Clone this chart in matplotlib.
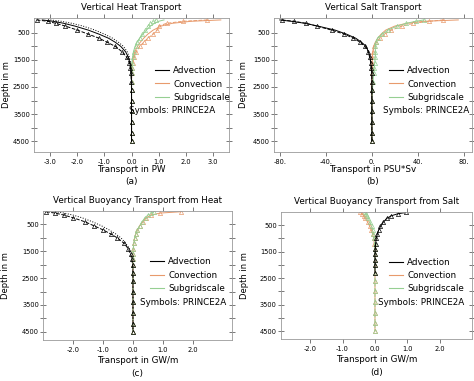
"""
Vertical transport profiles (heat, salt, buoyancy) - 4 panel figure
"""

import numpy as np
import matplotlib
matplotlib.use("Agg")
import matplotlib.pyplot as plt
from matplotlib.lines import Line2D

# depth levels (m)
depth = [25, 75, 150, 250, 400, 550, 700, 850, 1000, 1200, 1400, 1600,
         1800, 2000, 2300, 2600, 3000, 3400, 3800, 4200, 4500]

# (a) heat transport, PW
adv_a = [-3.3, -2.9, -2.5, -2.1, -1.6, -1.2, -0.85, -0.6, -0.4, -0.22, -0.12,
         -0.06, -0.03, -0.01, 0, 0, 0, 0, 0, 0, 0]
adv_a2 = [-3.0, -2.6, -2.2, -1.8, -1.35, -1.0, -0.7, -0.48, -0.3, -0.16, -0.08,
          -0.04, -0.02, 0, 0, 0, 0, 0, 0, 0, 0]
adv_a_p = [-3.5, -3.1, -2.8, -2.45, -2.0, -1.6, -1.2, -0.9, -0.6, -0.35, -0.18,
           -0.08, -0.04, -0.02, -0.01, 0, 0, 0, 0, 0, 0]
conv_a = [3.3, 2.2, 1.5, 1.1, 0.8, 0.6, 0.45, 0.32, 0.22, 0.12, 0.06, 0.03,
          0.01, 0, 0, 0, 0, 0, 0, 0, 0]
conv_a_p = [2.8, 1.9, 1.3, 1.0, 0.95, 0.8, 0.6, 0.45, 0.3, 0.18, 0.1, 0.05,
            0.02, 0.01, 0, 0, 0, 0, 0, 0, 0]
sgs_a = [1.2, 1.0, 0.85, 0.7, 0.55, 0.42, 0.3, 0.2, 0.13, 0.07, 0.04, 0.02,
         0.01, 0, 0, 0, 0, 0, 0, 0, 0]
sgs_a_p = [0.9, 0.8, 0.7, 0.6, 0.5, 0.4, 0.3, 0.22, 0.15, 0.08, 0.04, 0.02,
           0.01, 0, 0, 0, 0, 0, 0, 0, 0]

# (b) salt transport, PSU*Sv
adv_b = [-80, -70, -58, -47, -32, -22, -14, -9, -5, -3, -1.5, -1, -0.5, 0, 0,
         0, 0, 0, 0, 0, 0]
adv_b_p = [-78, -68, -57, -48, -35, -24, -16, -10, -6, -3, -2, -1, -0.5, 0, 0,
           0, 0, 0, 0, 0, 0]
conv_b = [75, 45, 30, 20, 12, 8, 5, 3, 1.5, 0.8, 0.4, 0.2, 0.1, 0, 0, 0, 0, 0,
          0, 0, 0]
conv_b_p = [62, 50, 36, 26, 17, 11, 7, 4, 2, 1, 0.5, 0.3, 0.1, 0, 0, 0, 0, 0,
            0, 0, 0]
sgs_b = [45, 38, 30, 22, 14, 9, 5, 3.5, 3, 3, 3, 2.5, 2, 1.5, 1, 0.5, 0, 0, 0,
         0, 0]

# (c) buoyancy transport from heat, GW/m
adv_c = [-2.6, -2.3, -2.0, -1.7, -1.35, -1.05, -0.8, -0.58, -0.4, -0.24,
         -0.12, -0.06, -0.03, 0, 0, 0, 0, 0, 0, 0, 0]
adv_c_p = [-2.9, -2.6, -2.3, -2.0, -1.6, -1.3, -1.0, -0.75, -0.52, -0.3,
           -0.16, -0.08, -0.04, -0.01, 0, 0, 0, 0, 0, 0, 0]
conv_c = [1.6, 0.9, 0.6, 0.45, 0.32, 0.22, 0.15, 0.1, 0.06, 0.03, 0.01, 0, 0,
          0, 0, 0, 0, 0, 0, 0, 0]
sgs_c = [0.7, 0.6, 0.5, 0.4, 0.3, 0.22, 0.15, 0.1, 0.06, 0.03, 0.01, 0, 0, 0,
         0, 0, 0, 0, 0, 0, 0]

# (d) buoyancy transport from salt, GW/m
adv_d = [0.95, 0.7, 0.5, 0.36, 0.25, 0.17, 0.11, 0.07, 0.04, 0.02, 0.01, 0, 0,
         0, 0]
conv_d = [-0.45, -0.4, -0.35, -0.3, -0.22, -0.16, -0.11, -0.07, -0.04, -0.02,
          0, 0, 0, 0, 0, 0, 0, 0, 0, 0, 0]
sgs_d = [-0.3, -0.28, -0.25, -0.2, -0.15, -0.1, -0.07, -0.05, -0.03, -0.01, 0,
         0, 0, 0, 0, 0, 0, 0, 0, 0, 0]

ADV = "black"
CONV = "#e89a6c"
SGS = "#96cf92"
FRAME = "#9a9a9a"
FS = 6.3

plt.rcParams["font.family"] = "DejaVu Sans"

fig = plt.figure(figsize=(4.74, 3.81), dpi=100)


def prof(ax, x, color, style="-", sym=False, lw=0.7):
    d = depth[:len(x)]
    if sym:
        ax.plot(x, d, color=color, linestyle=style, linewidth=lw, marker="^",
                markersize=3, markerfacecolor="none", markeredgewidth=0.5)
    else:
        ax.plot(x, d, color=color, linestyle=style, linewidth=lw)


def setup(ax, xlim, ylim, xticks, xticklabels, title, xlabel, letter,
          leg_xy, sym_xy, ylab_x, xlab_pad, letter_y):
    ax.set_xlim(*xlim)
    ax.set_ylim(*ylim)
    ax.set_yticks([500, 1500, 2500, 3500, 4500])
    ax.set_yticks([1000, 2000, 3000, 4000], minor=True)
    ax.set_xticks(xticks)
    ax.set_xticklabels(xticklabels)
    ax.tick_params(which="both", direction="out", top=True, right=True,
                   labelsize=4.8, width=0.5, length=3, pad=2, color="#444444")
    ax.tick_params(axis="y", which="both", direction="inout", length=4, pad=1)
    for s in ax.spines.values():
        s.set_color(FRAME)
        s.set_linewidth(0.6)
    ax.set_title(title, fontsize=FS, pad=6)
    ax.set_xlabel(xlabel, fontsize=FS, labelpad=xlab_pad)
    ax.set_ylabel("Depth in m", fontsize=6)
    ax.yaxis.set_label_coords(ylab_x, 0.5)
    ax.text(0.5, letter_y, letter, transform=ax.transAxes, ha="center",
            va="center", fontsize=6.5)

    handles = [Line2D([], [], color=ADV, lw=0.8),
               Line2D([], [], color=CONV, lw=0.8),
               Line2D([], [], color=SGS, lw=0.8)]
    ax.legend(handles, ["Advection", "Convection", "Subgridscale"],
              loc="upper left", bbox_to_anchor=leg_xy, frameon=False,
              fontsize=FS, handlelength=1.6, handletextpad=0.5,
              labelspacing=0.5, borderpad=0, borderaxespad=0)
    ax.text(sym_xy[0], sym_xy[1], "Symbols: PRINCE2A", transform=ax.transAxes,
            ha="right", va="center", fontsize=FS)


# (a)
ax = fig.add_axes([0.072, 0.601, 0.411, 0.352])
prof(ax, conv_a, CONV)
prof(ax, conv_a_p, CONV, "--", sym=True)
prof(ax, sgs_a, SGS)
prof(ax, sgs_a_p, SGS, ":", sym=True)
prof(ax, adv_a2, ADV, ":")
prof(ax, adv_a_p, ADV, "--", sym=True)
prof(ax, adv_a, ADV)
setup(ax, (-3.6, 3.6), (4900, -50), [-3, -2, -1, 0, 1, 2, 3],
      ["-3.0", "-2.0", "-1.0", "0.0", "1.0", "2.0", "3.0"],
      "Vertical Heat Transport", "Transport in PW", "(a)",
      (0.62, 0.64), (0.93, 0.31), -0.118, 0, -0.22)

# (b)
ax = fig.add_axes([0.578, 0.601, 0.418, 0.352])
prof(ax, conv_b, CONV)
prof(ax, conv_b_p, CONV, "--", sym=True)
prof(ax, sgs_b, SGS, sym=True)
prof(ax, adv_b_p, ADV, "--", sym=True)
prof(ax, adv_b, ADV)
setup(ax, (-85, 87), (4900, -50), [-80, -40, 0, 40, 80],
      ["-80.", "-40.", "0.", "40.", "80."],
      "Vertical Salt Transport", "Transport in PSU*Sv", "(b)",
      (0.58, 0.64), (0.985, 0.31), -0.13, 0, -0.22)

# (c)
ax = fig.add_axes([0.091, 0.108, 0.398, 0.338])
prof(ax, conv_c, CONV, sym=True)
prof(ax, sgs_c, SGS, "--", sym=True)
prof(ax, adv_c, ADV, ":")
prof(ax, adv_c_p, ADV, "--", sym=True)
setup(ax, (-3.0, 3.3), (4800, 0), [-2, -1, 0, 1, 2],
      ["-2.0", "-1.0", "0.0", "1.0", "2.0"],
      "Vertical Buoyancy Transport from Heat", "Transport in GW/m", "(c)",
      (0.566, 0.64), (0.97, 0.29), -0.175, 2, -0.26)

# (d)
ax = fig.add_axes([0.593, 0.110, 0.403, 0.334])
prof(ax, conv_d, CONV, sym=True)
prof(ax, sgs_d, SGS, "--", sym=True)
prof(ax, adv_d, ADV, sym=True)
setup(ax, (-2.9, 3.0), (4800, 0), [-2, -1, 0, 1, 2],
      ["-2.0", "-1.0", "0.0", "1.0", "2.0"],
      "Vertical Buoyancy Transport from Salt", "Transport in GW/m", "(d)",
      (0.565, 0.64), (0.958, 0.29), -0.168, 2, -0.26)

fig.savefig("out.png", dpi=100)
